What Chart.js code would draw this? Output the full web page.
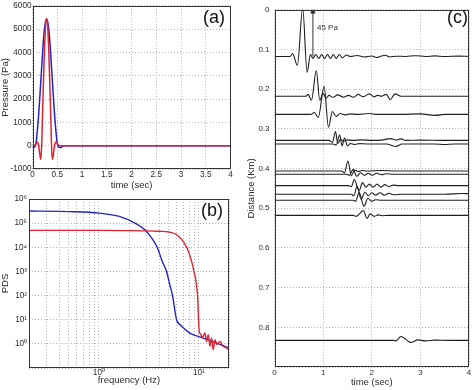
<!DOCTYPE html>
<html>
<head>
<meta charset="utf-8">
<script src="https://cdn.jsdelivr.net/npm/chart.js@4.4.1/dist/chart.umd.min.js"></script>
<style>
  html, body { margin: 0; padding: 0; background: #fff; }
  #wrap { position: relative; width: 474px; height: 390px; overflow: hidden; font-family: "Liberation Sans", Arial, sans-serif; }
  canvas { position: absolute; }
  .tag { position: absolute; font-size: 18px; line-height: 18px; color: #111; }
  .note { position: absolute; font-size: 8px; line-height: 10px; color: #333; }
</style>
</head>
<body>
<div id="wrap">
  <canvas id="pulseChart" width="240" height="192" style="left:0;top:0;width:240px;height:192px"></canvas>
  <canvas id="pdsChart" width="240" height="198" style="left:0;top:192px;width:240px;height:198px"></canvas>
  <canvas id="traceChart" width="234" height="390" style="left:240px;top:0;width:234px;height:390px"></canvas>
  <div class="tag" style="left:203px;top:8px">(a)</div>
  <div class="tag" style="left:201px;top:201px">(b)</div>
  <div class="tag" style="left:447px;top:8px">(c)</div>
  <div class="note" style="left:317px;top:23px">45 Pa</div>
</div>
<script>
// (a) source pulses, pressure in Pa against time in s
const blueTime = [0, 0.04, 0.07, 0.1, 0.13, 0.16, 0.19, 0.22, 0.25, 0.285, 0.32, 0.35, 0.38, 0.41, 0.44, 0.47, 0.5, 0.53, 0.57, 0.62, 4];
const bluePa = [-80, -60, 100, 700, 1500, 2500, 3500, 4500, 5150, 5450, 5150, 4500, 3500, 2500, 1500, 700, 100, -60, -80, 0, 0];
const redTime = [0, 0.05, 0.09, 0.12, 0.15, 0.168, 0.185, 0.21, 0.24, 0.265, 0.285, 0.305, 0.33, 0.36, 0.385, 0.4, 0.42, 0.45, 0.48, 0.52, 0.56, 4];
const redPa = [0, 20, 170, 50, -400, -590, 0, 1950, 4000, 5200, 5450, 5200, 4000, 1950, 0, -590, -400, 50, 170, 20, 0, 0];
const timeTicksA = [0, 0.5, 1, 1.5, 2, 2.5, 3, 3.5, 4];
const timeLabelsA = ["0", "0.5", "1", "1.5", "2", "2.5", "3", "3.5", "4"];
const pressureTicks = [-1000, 0, 1000, 2000, 3000, 4000, 5000, 6000];
const pressureLabels = ["-1000", "0", "1000", "2000", "3000", "4000", "5000", "6000"];

// (b) spectra
const blueFreq = [0.2, 0.5, 1, 1.6, 2.29, 2.9, 3.4, 3.83, 4.3, 4.75, 5.1, 5.45, 5.98, 6.5, 6.97, 8.1, 11, 15, 20];
const bluePds = [3.2e5, 3.0e5, 2.6e5, 1.9e5, 1.0e5, 5.2e4, 2.3e4, 1.0e4, 2.6e3, 1.0e3, 300, 100, 10, 6.2, 4.6, 2.8, 1.74, 1.1, 0.66];
const redFreq = [0.2, 1, 2, 3, 4, 5, 6, 7, 8, 9, 9.7, 10.1, 10.4, 10.8, 11.5, 11.9, 12.4, 12.9, 13.4, 13.9, 14.5, 15.1, 16.2, 17.5, 18.9, 20];
const redPds = [5.0e4, 5.0e4, 4.9e4, 4.8e4, 4.6e4, 4.3e4, 3.3e4, 1.7e4, 5.6e3, 850, 100, 3.0, 2.6, 1.8, 2.8, 1.26, 2.4, 0.8, 1.74, 0.57, 1.48, 0.93, 1.26, 0.8, 0.68, 0.57];
const freqTicks = [0.2, 0.3, 0.4, 0.5, 0.6, 0.7, 0.8, 0.9, 1, 2, 3, 4, 5, 6, 7, 8, 9, 10, 20];
const freqLabels = ["", "", "", "", "", "", "", "", "10\u2070", "", "", "", "", "", "", "", "", "10\u00b9", ""];
const pdsTicks = [1e-1, 1e0, 1e1, 1e2, 1e3, 1e4, 1e5, 1e6];
const pdsLabels = ["", "10\u2070", "10\u00b9", "10\u00b2", "10\u00b3", "10\u2074", "10\u2075", "10\u2076"];

// (c) records, baseline distance in km and waveform as [time s, pressure Pa]
const traceDist = [0.1176, 0.218, 0.2636, 0.329, 0.338, 0.406, 0.4145, 0.443, 0.4647, 0.48, 0.518, 0.833];
const traceWaves = [
  [[0, 0], [0.32, 0], [0.37, 3], [0.47, -9], [0.58, 49], [0.67, -16], [0.74, 2], [0.79, -2], [0.85, 2], [0.91, -2], [0.97, 2], [1.03, -2], [1.09, 2], [1.15, -2], [1.21, 2], [1.27, -2], [1.33, 2], [1.4, -1.5], [1.47, 1.5], [1.56, 0], [1.7, 1], [1.85, -0.5], [2.0, 0.5], [2.1, -1], [2.2, 0.5], [2.28, 1.3], [2.36, -0.5], [2.5, 0.3], [2.7, 0], [2.9, 0.8], [3.1, 0], [3.3, 0.6], [3.5, 0], [3.8, 0.4], [4, 0]],
  [[0, 0], [0.64, 0], [0.69, 2], [0.76, -4], [0.86, 26], [0.93, -4], [1.0, 3], [1.06, -2], [1.12, 1], [1.2, -1], [1.3, 1.5], [1.42, -1], [1.52, 1], [1.62, -1], [1.72, 2], [1.82, -0.5], [1.95, 2.5], [2.05, -0.5], [2.12, 1], [2.2, 0], [2.3, 2], [2.38, -3.5], [2.48, 2.5], [2.6, 0], [4, 0]],
  [[0, 0], [0.75, 0], [0.82, 2], [0.9, -3], [1.02, 28], [1.11, -13], [1.19, 3], [1.27, -2], [1.35, 1], [1.45, -0.5], [1.55, 0.5], [1.7, 0], [1.95, 1], [2.1, 0], [2.6, 0], [3.0, 0.5], [3.3, -1], [3.5, 0], [4, 0]],
  [[0, 0], [1.12, 0], [1.19, -2], [1.255, 9], [1.3, -3], [1.36, 1], [1.42, -1], [1.5, 0.5], [1.6, 0], [1.8, 0.5], [2.0, 0], [2.2, 0.3], [2.38, 1.8], [2.5, 0.3], [2.6, 1.5], [2.7, 0], [3.0, 0.3], [3.5, 0], [4, 0]],
  [[0, 0], [1.2, 0], [1.27, -1], [1.34, 9], [1.39, -2], [1.44, 6], [1.5, -2], [1.56, 0.5], [1.65, -0.5], [1.75, 0.3], [1.9, 0], [2.3, 0], [2.5, -2.5], [2.62, 0], [3.3, 0], [3.5, -0.5], [3.7, 0], [4, 0]],
  [[0, 0], [1.38, 0], [1.44, -2], [1.51, 10], [1.58, -5], [1.65, 1], [1.72, -0.5], [1.8, 0.5], [1.9, 0], [2.2, 0.5], [2.5, 0], [4, 0]],
  [[0, 0], [1.48, 0], [1.54, -1], [1.62, 5], [1.69, -2], [1.77, 1.5], [1.85, -1], [1.93, 1], [2.01, -1], [2.1, 1], [2.2, -0.5], [2.3, 0.5], [2.45, 0], [4, 0]],
  [[0, 0], [1.52, 0], [1.58, -1], [1.64, 6], [1.74, -5], [1.81, 3], [1.88, -1.5], [1.95, 1.5], [2.03, -1.5], [2.11, 1.5], [2.19, -1.5], [2.27, 1], [2.35, -1], [2.45, 0.5], [2.55, 0], [4, 0]],
  [[0, 0], [1.58, 0], [1.63, -1.5], [1.7, 8], [1.78, -5], [1.86, 2], [1.93, -1.5], [2.0, 1.5], [2.08, -1], [2.17, 1.5], [2.26, -1], [2.35, 1], [2.45, -0.5], [2.6, 0], [3.5, 0], [3.85, 0.8], [4, 0.5]],
  [[0, 0], [1.62, 0], [1.67, -1], [1.74, 8], [1.84, -6], [1.92, 2], [2.0, -1], [2.08, 0.5], [2.2, 0], [4, 0]],
  [[0, 0], [1.62, 0], [1.68, -1], [1.83, 5], [1.9, -3], [1.97, 1.5], [2.05, -1], [2.13, 0.5], [2.22, -0.3], [2.35, 0], [4, 0]],
  [[0, 0], [2.45, 0], [2.5, -0.5], [2.6, 4], [2.8, -2], [2.95, 0.5], [3.1, -0.5], [3.3, 0.3], [3.6, 0], [4, 0]],
];
const scaleBarPa = 45;
const scaleBarTime = 0.79;
const kmPerPa = 0.0025;
const secTicks = [0, 1, 2, 3, 4];
const secLabels = ["0", "1", "2", "3", "4"];
const distTicks = [0, 0.1, 0.2, 0.3, 0.4, 0.5, 0.6, 0.7, 0.8, 0.9];
const distLabels = ["0", "0.1", "0.2", "0.3", "0.4", "0.5", "0.6", "0.7", "0.8", ""];

const blue = "#2424c8";
const red = "#dc2430";
const ink = "#2a2a2a";
const fam = "'Liberation Sans', Arial, sans-serif";

// matlab-style box round the plot area
const frame = {
  id: "frame",
  afterDraw(chart) {
    const { ctx, chartArea: a } = chart;
    const l = Math.round(a.left) + 0.5, t = Math.round(a.top) + 0.5;
    const r = Math.round(a.right) - 0.5, b = Math.round(a.bottom) - 0.5;
    ctx.save();
    ctx.strokeStyle = "#333";
    ctx.lineWidth = 1;
    ctx.strokeRect(l, t, r - l, b - t);
    ctx.restore();
  },
};

function axis(o) {
  return {
    type: o.type || "linear",
    min: o.min,
    max: o.max,
    reverse: !!o.reverse,
    afterBuildTicks: (s) => { s.ticks = o.ticks.map((v) => ({ value: v })); },
    afterFit: (s) => { if (s.isHorizontal()) s.height = o.size; else s.width = o.size; },
    ticks: { autoSkip: false, maxRotation: 0, padding: o.labelPad, color: ink, font: { family: fam, size: o.tickSize || 8.2 }, callback: (v, i) => o.labels[i] },
    grid: { color: "#b4b4b4", lineWidth: 1, drawTicks: false },
    border: { display: false, dash: [1, 2] },
    title: { display: true, text: o.title, color: ink, font: { family: fam, size: 9.5 }, padding: o.titlePad },
  };
}

const base = {
  responsive: false,
  animation: false,
  events: [],
  plugins: { legend: { display: false }, tooltip: { enabled: false } },
};

function line(xs, ys, color, width) {
  return {
    data: xs.map((x, i) => ({ x: x, y: ys[i] })),
    borderColor: color,
    borderWidth: width,
    pointRadius: 0,
    fill: false,
    cubicInterpolationMode: "monotone",
  };
}

new Chart(document.getElementById("pulseChart"), {
  type: "line",
  data: { datasets: [line(redTime, redPa, red, 1.5), line(blueTime, bluePa, blue, 1.5)] },
  options: {
    ...base,
    layout: { padding: { top: 5, right: 9.5, bottom: 0, left: 0 } },
    scales: {
      x: axis({ min: 0, max: 4, ticks: timeTicksA, labels: timeLabelsA, size: 23, labelPad: 1, title: "time (sec)", titlePad: { top: 0, bottom: 1.3 } }),
      y: axis({ min: -1000, max: 6000, ticks: pressureTicks, labels: pressureLabels, size: 32.5, labelPad: 1, title: "Pressure (Pa)", titlePad: { top: 0, bottom: 0 } }),
    },
  },
  plugins: [frame],
});

new Chart(document.getElementById("pdsChart"), {
  type: "line",
  data: { datasets: [line(redFreq, redPds, red, 1.4), line(blueFreq, bluePds, blue, 1.4)] },
  options: {
    ...base,
    layout: { padding: { top: 7, right: 11, bottom: 0, left: 0 } },
    scales: {
      x: axis({ type: "logarithmic", min: 0.2, max: 20, ticks: freqTicks, labels: freqLabels, size: 22, labelPad: 0, title: "frequency (Hz)", titlePad: { top: 0, bottom: 4.3 } }),
      y: axis({ type: "logarithmic", min: 0.1, max: 1e6, ticks: pdsTicks, labels: pdsLabels, size: 29, labelPad: 2, title: "PDS", titlePad: { top: 0, bottom: 0 } }),
    },
  },
  plugins: [frame],
});

const traceSets = traceWaves.map((wave, k) =>
  line(wave.map((p) => p[0]), wave.map((p) => traceDist[k] - p[1] * kmPerPa), "#1e1e1e", 1.1)
);
traceSets.push({
  data: [
    { x: scaleBarTime, y: traceDist[0] },
    { x: scaleBarTime, y: traceDist[0] - scaleBarPa * kmPerPa },
  ],
  borderColor: "#333",
  backgroundColor: "#333",
  borderWidth: 1,
  pointStyle: "triangle",
  pointRadius: [0, 2.5],
  fill: false,
});

new Chart(document.getElementById("traceChart"), {
  type: "line",
  data: { datasets: traceSets },
  options: {
    ...base,
    layout: { padding: { top: 5, right: 3.5, bottom: 0, left: 0 } },
    scales: {
      x: axis({ min: 0, max: 4, ticks: secTicks, labels: secLabels, size: 23, labelPad: 1, tickSize: 8, title: "time (sec)", titlePad: { top: 0, bottom: 1.8 } }),
      y: axis({ min: 0, max: 0.9, reverse: true, ticks: distTicks, labels: distLabels, size: 34.5, labelPad: 5, tickSize: 8, title: "Distance (Km)", titlePad: { top: 5.3, bottom: 0 } }),
    },
  },
  plugins: [frame],
});
</script>
</body>
</html>
